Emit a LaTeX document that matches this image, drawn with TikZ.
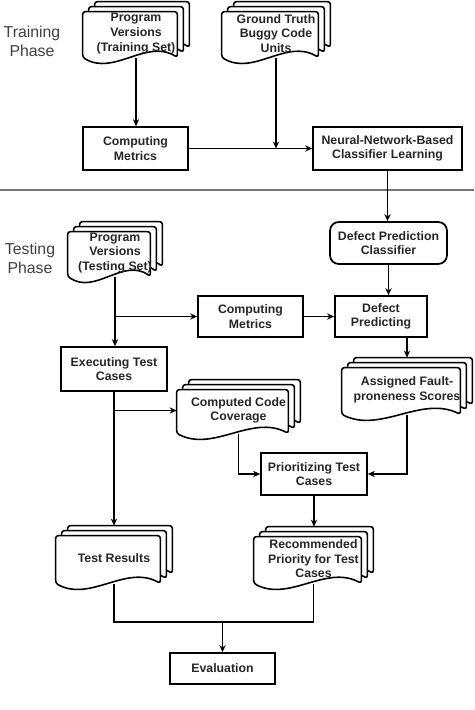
\documentclass[tikz,border=0pt]{standalone}
\usepackage{fontspec}
\setmainfont{Liberation Sans}
\usetikzlibrary{arrows.meta,calc,backgrounds}

\newcommand{\labelfont}{\bfseries\fontsize{7}{8.3}\selectfont}
\newcommand{\phasefont}{\fontsize{9}{10.8}\selectfont}

\tikzset{
  box/.style={draw, line width=1pt, inner sep=0pt, align=center, font=\labelfont, text=black!85},
  docnode/.style={inner sep=0pt, align=center, font=\labelfont, text=black!85},
  docline/.style={draw, fill=white, line width=0.9pt, line join=round, rounded corners=1.5pt},
  conn/.style={line width=0.6pt, -{Stealth[length=4pt,width=3.6pt]}},
  fromdoc/.style={shorten <=-0.15cm},
  phase/.style={align=center, font=\phasefont, text=black!75}
}

% stack of three documents behind a node, wavy edge 8px above its south side
\newcommand{\docstack}[1]{%
  \begin{scope}[on background layer]
  \foreach \k in {2,1,0}{
    \coordinate (nw) at ($(#1.north west)+(6*\k,5*\k-10)$);
    \coordinate (se) at ($(#1.south east)+(6*\k-12,5*\k+8)$);
    \draw[docline] (nw) -- (nw -| se) -- (se) .. controls ($(se)!0.33!(se -| nw)+(0,19)$) and ($(se)!0.67!(se -| nw)+(0,-19)$) .. (se -| nw) -- cycle;
  }
  \end{scope}}

\begin{document}
\begin{tikzpicture}[x=0.02cm, y=0.02cm]
    \useasboundingbox (0,0) rectangle (474,-710);

    % training phase
    \node[phase] (trainlabel) at (32,-41.5) {Training\\Phase};
    \node[docnode, minimum width=2.12cm, minimum height=1.26cm] (trainprog) at (136,-33.5) {Program\\Versions\\(Training Set)};
    \node[docnode, minimum width=2.16cm, minimum height=1.26cm] (truth) at (276,-33.5) {Ground Truth\\Buggy Code\\Units};
    \docstack{trainprog}
    \docstack{truth}
    \node[box, minimum width=2.1cm, minimum height=0.86cm] (cmtrain) at (135.5,-148.5) {Computing\\Metrics};
    \node[box, minimum width=2.98cm, minimum height=0.86cm] (neural) at (387.5,-148.5) {Neural-Network-Based\\Classifier Learning};

    \draw[conn, fromdoc] (trainprog.south) -- (trainprog.south |- cmtrain.north);
    \draw[conn] (cmtrain.east) -- (neural.west);
    \draw[conn, fromdoc] (truth.south) -- (truth.south |- cmtrain.east);

    \draw[black!55, line width=0.7pt] (0,-190) -- (474,-190);

    % testing phase
    \node[phase] (testlabel) at (30,-258) {Testing\\Phase};
    \node[box, rounded corners=5pt, minimum width=2.34cm, minimum height=0.84cm] (classifier) at (388.5,-243) {Defect Prediction\\Classifier};
    \node[docnode, minimum width=1.88cm, minimum height=1.24cm] (testprog) at (115,-253) {Program\\Versions\\(Testing Set)};
    \docstack{testprog}
    \node[box, minimum width=2.1cm, minimum height=0.82cm] (cmtest) at (250.5,-316.5) {Computing\\Metrics};
    \node[box, minimum width=1.84cm, minimum height=0.82cm] (predict) at (381,-316.5) {Defect\\Predicting};
    \node[box, minimum width=2.12cm, minimum height=0.88cm] (exec) at (114,-369) {Executing Test\\Cases};
    \node[docnode, minimum width=2.6cm, minimum height=1.28cm] (assigned) at (407,-390) {Assigned Fault-\\proneness Scores};
    \node[docnode, minimum width=2.46cm, minimum height=1.22cm] (coverage) at (238.5,-410.5) {Computed Code\\Coverage};
    \docstack{assigned}
    \docstack{coverage}
    \node[box, minimum width=2.12cm, minimum height=0.84cm] (prio) at (314,-474) {Prioritizing Test\\Cases};
    \node[docnode, minimum width=2.32cm, minimum height=1.3cm] (testres) at (114,-558.5) {Test Results};
    \node[docnode, minimum width=2.38cm, minimum height=1.28cm] (recommend) at (313.5,-559) {Recommended\\Priority for Test\\Cases};
    \docstack{testres}
    \docstack{recommend}
    \node[box, minimum width=2.1cm, minimum height=0.62cm] (eval) at (222.5,-668.5) {Evaluation};

    \draw[conn] (neural.south) -- (neural.south |- classifier.north);
    \draw[conn] (classifier.south) -- (classifier.south |- predict.north);
    \draw[conn, fromdoc] (testprog.south) -- (testprog.south |- exec.north);
    \draw[conn] (testprog.south |- cmtest.west) -- (cmtest.west);
    \draw[conn] (cmtest.east) -- (predict.west);
    \draw[conn] (assigned.north |- predict.south) -- (assigned.north);
    \draw[conn] (exec.south) -- (exec.south |- testres.north);
    \draw[conn] (exec.south |- coverage.west) -- (coverage.west);
    \draw[conn, fromdoc] (coverage.south) |- (prio.west);
    \draw[conn, fromdoc] (assigned.south) |- (prio.east);
    \draw[conn] (prio.south) -- (prio.south |- recommend.north);
    \coordinate (join) at (eval.north |- 0,-622);
    \draw[conn, -, fromdoc, shorten >=-0.15cm] (testres.south) |- (join) -| (recommend.south);
    \draw[conn] (join) -- (eval.north);
\end{tikzpicture}
\end{document}
